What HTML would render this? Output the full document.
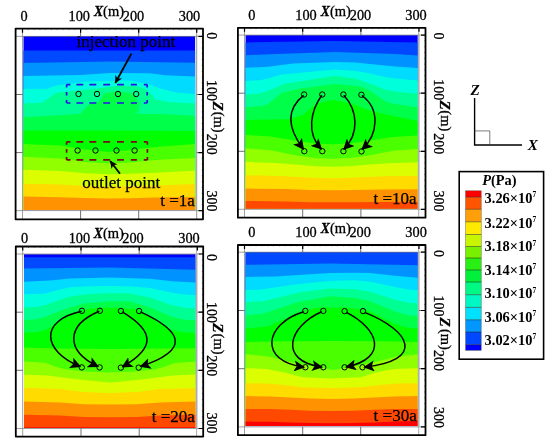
<!DOCTYPE html>
<html><head><meta charset="utf-8"><title>Pressure distribution</title>
<style>html,body{margin:0;padding:0;background:#fff}svg{display:block}text{font-family:"Liberation Serif",serif;fill:#000}.n{font-size:14.3px;stroke:#000;stroke-width:.3px}.t{font-size:17px;stroke:#000;stroke-width:.25px}.b{font-weight:bold}.bi{font-weight:bold;font-style:italic}.lg{font-size:14.4px;font-weight:bold}.xt{font-size:14.5px;stroke:#000;stroke-width:.3px}.zz{font-size:15.2px !important}.mm{font-size:14.5px !important}.r{font-size:14px;stroke:#000;stroke-width:.3px}</style></head><body>
<svg width="550" height="447" viewBox="0 0 550 447">
<rect width="550" height="447" fill="#fff"/>
<defs><marker id="ah" viewBox="0 0 10 10" refX="8.7" refY="5" markerWidth="11" markerHeight="11" markerUnits="userSpaceOnUse" orient="auto"><path d="M0,0 L10,5 L0,10 L2.3,5 Z" fill="#000"/></marker><marker id="as" viewBox="0 0 10 10" refX="9.5" refY="5" markerWidth="9.5" markerHeight="7.5" markerUnits="userSpaceOnUse" orient="auto"><path d="M0,0 L10,5 L0,10 L2.8,5 Z" fill="#000"/></marker></defs>
<g id="p1">
<rect x="23.5" y="36.1" width="171.6" height="174" fill="#0000ff"/>
<polygon points="23.5,50.4 195.1,50.4 195.1,210.1 23.5,210.1" fill="#0049ff"/>
<polygon points="23.5,62.9 110,61.5 195.1,62.7 195.1,210.1 23.5,210.1" fill="#0092ff"/>
<polygon points="23.5,76 80,75 110,73 150,73.2 165,75.3 195.1,76.5 195.1,210.1 23.5,210.1" fill="#00dbff"/>
<polygon points="23.5,89.1 47,88.7 56,85.5 85,81.7 128,80.6 147,83.7 161.4,88.8 176,92.5 195.1,93.9 195.1,210.1 23.5,210.1" fill="#00ffdb"/>
<polygon points="23.5,103.6 42,102.7 56.5,92.7 93,89 121,85.4 139,86.5 148.3,91 155.5,99.7 168.6,102 195.1,103.4 195.1,210.1 23.5,210.1" fill="#00ff92"/>
<polygon points="23.5,117.3 80,114 89,104.5 100,101 104,93.4 118,91.2 133,93.4 139.5,102.6 139,110 136,113.7 165,114.3 195.1,115.7 195.1,210.1 23.5,210.1" fill="#00ff49"/>
<polygon points="23.5,130.6 110,130.5 195.1,131 195.1,210.1 23.5,210.1" fill="#00ff00"/>
<polygon points="23.5,144 60,145.5 85,149.5 108,152 130,150 155,147 195.1,144 195.1,210.1 23.5,210.1" fill="#49ff00"/>
<polygon points="23.5,156.7 60,158.5 85,162 108,163.5 130,162.5 155,160 195.1,158 195.1,210.1 23.5,210.1" fill="#92ff00"/>
<polygon points="23.5,169.7 60,171 85,173.3 108,174.2 130,173.8 155,172.8 195.1,170.8 195.1,210.1 23.5,210.1" fill="#dbff00"/>
<polygon points="23.5,183.8 60,184.6 85,186 108,186.5 130,186.2 155,185.6 195.1,184 195.1,210.1 23.5,210.1" fill="#ffdb00"/>
<polygon points="23.5,196.6 60,197.2 85,198.1 108,198.4 130,198.2 155,197.6 195.1,197 195.1,210.1 23.5,210.1" fill="#ff9200"/>
<path d="M22.5,28.7V219.3M15.6,36.4H203M15.6,210.6H203" stroke="#77777a" stroke-width="0.7" fill="none"/>
<path d="M196.7,28.7V219.3" stroke="#8c8c84" stroke-width="0.9" fill="none"/>
<path d="M80.6,28.7V36.4M80.6,210.6V219.3M138.7,28.7V36.4M138.7,210.6V219.3M15.6,94.5H22.5M196.7,94.5H203M15.6,152.6H22.5M196.7,152.6H203" stroke="#333" stroke-width="0.7" fill="none"/>
<path d="M22.5,28.7v4M80.6,28.7v4M138.7,28.7v4M196.7,28.7v4M203,36.4h-4.5M203,94.5h-4.5M203,152.6h-4.5M203,210.6h-4.5" stroke="#000" stroke-width="1.2" fill="none"/>
<path d="M28.3,28.7v1.4M203,42.2h-1.4M34.1,28.7v1.4M203,48h-1.4M39.9,28.7v1.4M203,53.8h-1.4M45.7,28.7v1.4M203,59.6h-1.4M51.5,28.7v1.4M203,65.4h-1.4M57.3,28.7v1.4M203,71.2h-1.4M63.1,28.7v1.4M203,77h-1.4M69,28.7v1.4M203,82.9h-1.4M74.8,28.7v1.4M203,88.7h-1.4M86.4,28.7v1.4M203,100.3h-1.4M92.2,28.7v1.4M203,106.1h-1.4M98,28.7v1.4M203,111.9h-1.4M103.8,28.7v1.4M203,117.7h-1.4M109.6,28.7v1.4M203,123.5h-1.4M115.4,28.7v1.4M203,129.3h-1.4M121.2,28.7v1.4M203,135.1h-1.4M127,28.7v1.4M203,140.9h-1.4M132.8,28.7v1.4M203,146.7h-1.4M144.4,28.7v1.4M203,158.3h-1.4M150.2,28.7v1.4M203,164.1h-1.4M156.1,28.7v1.4M203,170h-1.4M161.9,28.7v1.4M203,175.8h-1.4M167.7,28.7v1.4M203,181.6h-1.4M173.5,28.7v1.4M203,187.4h-1.4M179.3,28.7v1.4M203,193.2h-1.4M185.1,28.7v1.4M203,199h-1.4M190.9,28.7v1.4M203,204.8h-1.4" stroke="#444" stroke-width="0.5" fill="none"/>
<rect x="15.6" y="28.7" width="187.4" height="190.6" fill="none" stroke="#000" stroke-width="1.8" stroke-linejoin="round"/>
<g fill="none" stroke="#000" stroke-width="1.0">
<circle cx="78.5" cy="94" r="2.7"/>
<circle cx="97" cy="94" r="2.7"/>
<circle cx="118" cy="94" r="2.7"/>
<circle cx="136.2" cy="94" r="2.7"/>
<circle cx="77.6" cy="150.5" r="2.7"/>
<circle cx="95.5" cy="150.5" r="2.7"/>
<circle cx="116.5" cy="150.5" r="2.7"/>
<circle cx="134.6" cy="150.5" r="2.7"/>
</g>
<text class="n" x="24.2" y="20.9" text-anchor="middle">0</text>
<text class="n" x="79.3" y="20.9" text-anchor="middle">100</text>
<text class="n" x="133.5" y="20.9" text-anchor="middle">200</text>
<text class="n" x="189.5" y="20.9" text-anchor="middle">300</text>
<text class="xt" x="94" y="16.2"><tspan class="bi" font-size="13.6">X</tspan>(m)</text>
<text class="r" transform="translate(206.9,35.8) rotate(90)" text-anchor="middle">0</text>
<text class="r" transform="translate(206.9,80.1) rotate(90)" text-anchor="start">100</text>
<text class="r" transform="translate(206.9,133.8) rotate(90)" text-anchor="start">200</text>
<text class="r" transform="translate(206.9,190.6) rotate(90)" text-anchor="start">300</text>
<text class="r bi zz" transform="translate(213.3,101.5) rotate(90)" text-anchor="start">Z</text>
<text class="r mm" transform="translate(214.3,111.7) rotate(90)" text-anchor="start">(m)</text>
<text class="t" x="194.8" y="206.1" text-anchor="end">t =1a</text>
</g>
<g id="p2">
<rect x="245.6" y="35.1" width="172.2" height="173.7" fill="#0000ff"/>
<polygon points="245.6,42.4 335,41.1 417.8,42.4 417.8,208.8 245.6,208.8" fill="#0049ff"/>
<polygon points="245.6,55.3 270,54.2 335,52 395,54 417.8,55.5 417.8,208.8 245.6,208.8" fill="#0092ff"/>
<polygon points="245.6,67.8 268,66.8 293,63.4 335,62 355,62.5 370,64.1 395,66.6 417.8,68 417.8,208.8 245.6,208.8" fill="#00dbff"/>
<polygon points="245.6,81 260,80.2 268,78.4 281.8,74.6 335,69.6 355,71 370,73.5 385,77 395,78.5 417.8,80.5 417.8,208.8 245.6,208.8" fill="#00ffdb"/>
<polygon points="245.6,94.4 260,93.5 268,90.8 285.5,83.6 335,76 355,78.5 370,83.7 385,89.5 395,91.5 417.8,93.8 417.8,208.8 245.6,208.8" fill="#00ff92"/>
<polygon points="245.6,107.2 262,106 268,104 281.8,92.8 300,88.6 335,84 359,86 370,90.7 380,98 388,102.5 395,104 417.8,107.2 417.8,208.8 245.6,208.8" fill="#00ff49"/>
<polygon points="245.6,120 287,119.3 303,115 316,104 332,100 350,103 368,110 386,114.5 417.8,121 417.8,208.8 245.6,208.8" fill="#00ff00"/>
<polygon points="245.6,135 270.5,136.4 295,140.5 315,143.5 332,144.3 350,143.5 370,140.5 393,136.9 417.8,135.6 417.8,208.8 245.6,208.8" fill="#49ff00"/>
<polygon points="245.6,148.3 270.5,150.3 295,155.2 315,158 332,158.8 350,158 370,155.2 393,150.8 417.8,149 417.8,208.8 245.6,208.8" fill="#92ff00"/>
<polygon points="245.6,161.8 275,163 295,164.6 315,166.3 332,166.8 350,166.3 370,164.6 390,163.3 417.8,162.2 417.8,208.8 245.6,208.8" fill="#dbff00"/>
<polygon points="245.6,175.2 280,175.9 300,177 320,178 332,178.2 345,178 365,177 385,176.3 417.8,175.8 417.8,208.8 245.6,208.8" fill="#ffdb00"/>
<polygon points="245.6,188.5 285,189.1 310,190 332,190.2 355,190 380,189.6 417.8,189.3 417.8,208.8 245.6,208.8" fill="#ff9200"/>
<polygon points="245.6,200.9 285,201.4 310,202.2 332,202.3 355,202.2 380,201.9 417.8,201.8 417.8,208.8 245.6,208.8" fill="#ff4900"/>
<path d="M244.5,27.8V217.7M237.9,35.1H425.5M237.9,209.3H425.5" stroke="#77777a" stroke-width="0.7" fill="none"/>
<rect x="417.8" y="35.1" width="1.8" height="173.7" fill="#bcbcc2"/>
<path d="M418.7,27.8V217.7" stroke="#aaaaae" stroke-width="1" fill="none"/>
<path d="M302.7,27.8V35.1M302.7,209.3V217.7M360.9,27.8V35.1M360.9,209.3V217.7M237.9,93.2H244.5M419,93.2H425.5M237.9,151.3H244.5M419,151.3H425.5" stroke="#333" stroke-width="0.7" fill="none"/>
<path d="M244.5,27.8v4M302.7,27.8v4M360.9,27.8v4M419,27.8v4M425.5,35.1h-4.5M425.5,93.2h-4.5M425.5,151.3h-4.5M425.5,209.3h-4.5" stroke="#000" stroke-width="1.2" fill="none"/>
<path d="M250.3,27.8v1.4M425.5,40.9h-1.4M256.1,27.8v1.4M425.5,46.7h-1.4M261.9,27.8v1.4M425.5,52.5h-1.4M267.8,27.8v1.4M425.5,58.3h-1.4M273.6,27.8v1.4M425.5,64.1h-1.4M279.4,27.8v1.4M425.5,69.9h-1.4M285.2,27.8v1.4M425.5,75.7h-1.4M291,27.8v1.4M425.5,81.6h-1.4M296.9,27.8v1.4M425.5,87.4h-1.4M308.5,27.8v1.4M425.5,99h-1.4M314.3,27.8v1.4M425.5,104.8h-1.4M320.1,27.8v1.4M425.5,110.6h-1.4M325.9,27.8v1.4M425.5,116.4h-1.4M331.8,27.8v1.4M425.5,122.2h-1.4M337.6,27.8v1.4M425.5,128h-1.4M343.4,27.8v1.4M425.5,133.8h-1.4M349.2,27.8v1.4M425.5,139.6h-1.4M355,27.8v1.4M425.5,145.4h-1.4M366.6,27.8v1.4M425.5,157h-1.4M372.5,27.8v1.4M425.5,162.8h-1.4M378.3,27.8v1.4M425.5,168.7h-1.4M384.1,27.8v1.4M425.5,174.5h-1.4M389.9,27.8v1.4M425.5,180.3h-1.4M395.7,27.8v1.4M425.5,186.1h-1.4M401.6,27.8v1.4M425.5,191.9h-1.4M407.4,27.8v1.4M425.5,197.7h-1.4M413.2,27.8v1.4M425.5,203.5h-1.4" stroke="#444" stroke-width="0.5" fill="none"/>
<rect x="237.9" y="27.8" width="187.6" height="189.9" fill="none" stroke="#000" stroke-width="1.8" stroke-linejoin="round"/>
<g fill="none" stroke="#000" stroke-width="1.0">
<circle cx="304.1" cy="94.5" r="2.7"/>
<circle cx="322.3" cy="94.5" r="2.7"/>
<circle cx="343.4" cy="94.5" r="2.7"/>
<circle cx="361.4" cy="94.8" r="2.7"/>
<circle cx="304.3" cy="151.2" r="2.7"/>
<circle cx="322.3" cy="151.2" r="2.7"/>
<circle cx="343.4" cy="151.2" r="2.7"/>
<circle cx="361.5" cy="151.4" r="2.7"/>
</g>
<g fill="none" stroke="#000" stroke-width="1.5" marker-end="url(#ah)">
<path d="M303.6,95.3C283.9,111 290.1,131.3 303.2,148.8"/>
<path d="M321.8,95.3C310.6,110.9 306.2,133.8 321.2,148.8"/>
<path d="M343.8,95.3C357.8,110.5 359.4,133.5 344.1,149.1"/>
<path d="M361.8,95.5C380.4,108.7 378.2,134.7 362.3,149.1"/>
</g>
<text class="n" x="251.9" y="20.3" text-anchor="middle">0</text>
<text class="n" x="306" y="20.3" text-anchor="middle">100</text>
<text class="n" x="360.5" y="20.3" text-anchor="middle">200</text>
<text class="n" x="416" y="20.3" text-anchor="middle">300</text>
<text class="xt" x="320.8" y="15.7"><tspan class="bi" font-size="13.6">X</tspan>(m)</text>
<text class="r" transform="translate(434.2,36.1) rotate(90)" text-anchor="middle">0</text>
<text class="r" transform="translate(434.2,79.3) rotate(90)" text-anchor="start">100</text>
<text class="r" transform="translate(434.2,133.3) rotate(90)" text-anchor="start">200</text>
<text class="r" transform="translate(434.2,190.4) rotate(90)" text-anchor="start">300</text>
<text class="r bi zz" transform="translate(439.8,100.5) rotate(90)" text-anchor="start">Z</text>
<text class="r mm" transform="translate(440.8,110.3) rotate(90)" text-anchor="start">(m)</text>
<text class="t" x="416.6" y="204" text-anchor="end">t =10a</text>
</g>
<g id="p3">
<rect x="24" y="254.2" width="171.6" height="173.6" fill="#0000ff"/>
<polygon points="24,257.2 195.6,257.2 195.6,427.8 24,427.8" fill="#0049ff"/>
<polygon points="24,268.6 110,267.5 195.6,269.7 195.6,427.8 24,427.8" fill="#0092ff"/>
<polygon points="24,281.7 50,280.5 70,278.6 110,277.6 140,278.5 150,278.8 172,281.3 195.6,282.5 195.6,427.8 24,427.8" fill="#00dbff"/>
<polygon points="24,294.3 37,294 45,293.5 58,290 70,287.2 90,286.3 110,286 132,286.5 150,288 172,292.7 185,294.6 195.6,295 195.6,427.8 24,427.8" fill="#00ffdb"/>
<polygon points="24,307.6 36,307 45,305.2 58,300.5 70,296.6 90,294 110,293.2 128,293.3 150,297.4 172,305.2 185,307.8 195.6,308.4 195.6,427.8 24,427.8" fill="#00ff92"/>
<polygon points="24,320.1 36,319.3 45,317 58,311.8 70,307.6 84,303.5 110,301.2 130,301.5 150,307.6 172,317 185,319.8 195.6,320.1 195.6,427.8 24,427.8" fill="#00ff49"/>
<polygon points="24,332.8 37,332 45,330.3 57,323 70,314.8 84,309.8 100,307.8 120,307.8 139,309.8 150,317 162,324.5 172,330.3 185,332.5 195.6,332.8 195.6,427.8 24,427.8" fill="#00ff00"/>
<polygon points="24,347.4 60,348.6 110,348.9 160,348.6 195.6,348.2 195.6,427.8 24,427.8" fill="#49ff00"/>
<polygon points="24,361.5 45,362.8 57,367.3 66,369.5 84,371.5 110,372.5 136,371.5 154,369.5 163,367.3 175,363 195.6,361.8 195.6,427.8 24,427.8" fill="#92ff00"/>
<polygon points="24,374.7 47,375.5 74.5,379 101,381.8 110,382.5 120,381.8 146,379 173,375.5 195.6,374.5 195.6,427.8 24,427.8" fill="#dbff00"/>
<polygon points="24,387.8 60,389 84,392 110,393 137,392 160,389 195.6,388.2 195.6,427.8 24,427.8" fill="#ffdb00"/>
<polygon points="24,401.6 60,402.5 84,404.2 110,404.6 137,404.2 160,402.5 195.6,401.6 195.6,427.8 24,427.8" fill="#ff9200"/>
<polygon points="24,414.7 60,415.5 84,417 110,417.3 137,417 160,415.5 195.6,414.7 195.6,427.8 24,427.8" fill="#ff4900"/>
<polygon points="24,427 195.6,427 195.6,427.8 24,427.8" fill="#ff0000"/>
<path d="M22.7,246.5V436.6M15.8,254H203.2M15.8,428.5H203.2" stroke="#77777a" stroke-width="0.7" fill="none"/>
<rect x="195.6" y="254.2" width="1.9" height="173.6" fill="#bcbcc2"/>
<path d="M196.6,246.5V436.6" stroke="#aaaaae" stroke-width="1" fill="none"/>
<path d="M81,246.5V254M81,428.5V436.6M139.2,246.5V254M139.2,428.5V436.6M15.8,312.2H22.7M197.4,312.2H203.2M15.8,370.3H22.7M197.4,370.3H203.2" stroke="#333" stroke-width="0.7" fill="none"/>
<path d="M22.7,246.5v4M81,246.5v4M139.2,246.5v4M197.4,246.5v4M203.2,254h-4.5M203.2,312.2h-4.5M203.2,370.3h-4.5M203.2,428.5h-4.5" stroke="#000" stroke-width="1.2" fill="none"/>
<path d="M28.5,246.5v1.4M203.2,259.8h-1.4M34.3,246.5v1.4M203.2,265.6h-1.4M40.2,246.5v1.4M203.2,271.4h-1.4M46,246.5v1.4M203.2,277.3h-1.4M51.8,246.5v1.4M203.2,283.1h-1.4M57.6,246.5v1.4M203.2,288.9h-1.4M63.5,246.5v1.4M203.2,294.7h-1.4M69.3,246.5v1.4M203.2,300.5h-1.4M75.1,246.5v1.4M203.2,306.4h-1.4M86.8,246.5v1.4M203.2,318h-1.4M92.6,246.5v1.4M203.2,323.8h-1.4M98.4,246.5v1.4M203.2,329.6h-1.4M104.2,246.5v1.4M203.2,335.4h-1.4M110.1,246.5v1.4M203.2,341.2h-1.4M115.9,246.5v1.4M203.2,347.1h-1.4M121.7,246.5v1.4M203.2,352.9h-1.4M127.5,246.5v1.4M203.2,358.7h-1.4M133.3,246.5v1.4M203.2,364.5h-1.4M145,246.5v1.4M203.2,376.1h-1.4M150.8,246.5v1.4M203.2,382h-1.4M156.6,246.5v1.4M203.2,387.8h-1.4M162.5,246.5v1.4M203.2,393.6h-1.4M168.3,246.5v1.4M203.2,399.4h-1.4M174.1,246.5v1.4M203.2,405.2h-1.4M179.9,246.5v1.4M203.2,411.1h-1.4M185.8,246.5v1.4M203.2,416.9h-1.4M191.6,246.5v1.4M203.2,422.7h-1.4" stroke="#444" stroke-width="0.5" fill="none"/>
<rect x="15.8" y="246.5" width="187.4" height="190.1" fill="none" stroke="#000" stroke-width="1.8" stroke-linejoin="round"/>
<g fill="none" stroke="#000" stroke-width="1.0">
<circle cx="81.9" cy="310.8" r="2.7"/>
<circle cx="99.9" cy="310.8" r="2.7"/>
<circle cx="120.9" cy="311" r="2.7"/>
<circle cx="139.1" cy="311" r="2.7"/>
<circle cx="81.8" cy="367.4" r="2.7"/>
<circle cx="99.6" cy="367.4" r="2.7"/>
<circle cx="120.9" cy="367.6" r="2.7"/>
<circle cx="138.7" cy="367.6" r="2.7"/>
</g>
<g fill="none" stroke="#000" stroke-width="1.5" marker-end="url(#ah)">
<path d="M81.5,311.3C38.8,320.6 42.5,351.2 80,366.4"/>
<path d="M99.3,311.3C66.3,325.1 64.8,350.4 97.8,366.4"/>
<path d="M122.2,311.9C154.9,331.4 155.5,347.9 122.7,366.7"/>
<path d="M140.4,311.9C182.7,331.1 190.7,350 140.9,366.4"/>
</g>
<text class="n" x="24.5" y="242.5" text-anchor="middle">0</text>
<text class="n" x="79.4" y="242.5" text-anchor="middle">100</text>
<text class="n" x="133" y="242.5" text-anchor="middle">200</text>
<text class="n" x="189" y="242.5" text-anchor="middle">300</text>
<text class="xt" x="93.8" y="237.5"><tspan class="bi" font-size="13.6">X</tspan>(m)</text>
<text class="r" transform="translate(206.9,257.4) rotate(90)" text-anchor="middle">0</text>
<text class="r" transform="translate(206.9,302) rotate(90)" text-anchor="start">100</text>
<text class="r" transform="translate(206.9,355.3) rotate(90)" text-anchor="start">200</text>
<text class="r" transform="translate(206.9,412.6) rotate(90)" text-anchor="start">300</text>
<text class="r bi zz" transform="translate(213.3,323.3) rotate(90)" text-anchor="start">Z</text>
<text class="r mm" transform="translate(214.3,333.6) rotate(90)" text-anchor="start">(m)</text>
<text class="t" x="194.8" y="422.3" text-anchor="end">t =20a</text>
</g>
<g id="p4">
<rect x="245.6" y="252.3" width="172.2" height="173.8" fill="#0000ff"/>
<polygon points="245.6,252 417.8,252 417.8,426.1 245.6,426.1" fill="#0049ff"/>
<polygon points="245.6,264.8 330,263.5 417.8,265.3 417.8,426.1 245.6,426.1" fill="#0092ff"/>
<polygon points="245.6,276.9 275,276.5 330,273.1 355,272.8 370,273 395,275.7 417.8,277.7 417.8,426.1 245.6,426.1" fill="#00dbff"/>
<polygon points="245.6,289.9 259,289.7 297,284.3 330,281 355,280.3 370,281.7 395,287.1 408,289.6 417.8,290.3 417.8,426.1 245.6,426.1" fill="#00ffdb"/>
<polygon points="245.6,302.2 263.6,301 301.6,292 330,288.4 355,289.3 370,291.8 395,299.7 408,302.8 417.8,303.6 417.8,426.1 245.6,426.1" fill="#00ff92"/>
<polygon points="245.6,315.6 263.6,313.4 297,302.2 330,296.3 355,298 370,301.2 395,311.4 408,315.2 417.8,316.1 417.8,426.1 245.6,426.1" fill="#00ff49"/>
<polygon points="245.6,328.6 268.4,326.3 290.7,316 304,310 320,307.5 345,307.5 363,309.5 370,311.4 383,318 395,324 407,327.8 417.8,328.6 417.8,426.1 245.6,426.1" fill="#00ff00"/>
<polygon points="245.6,342 290,341.3 333,341 380,341.3 417.8,342 417.8,426.1 245.6,426.1" fill="#49ff00"/>
<polygon points="245.6,354.3 268.4,356.5 290.7,362 313,366.6 333,370 353,366.6 375,362 397,356.5 417.8,354.3 417.8,426.1 245.6,426.1" fill="#92ff00"/>
<polygon points="245.6,368.2 266.4,368.9 284.5,372.5 302.7,377.3 331.8,378.5 360.9,377.3 375.5,372.5 393.6,368.9 417.8,368.2 417.8,426.1 245.6,426.1" fill="#dbff00"/>
<polygon points="245.6,383.2 266.4,383.4 284.5,385 302.7,387.2 331.8,387.9 360.9,387.2 379,385 397,383.4 417.8,383.2 417.8,426.1 245.6,426.1" fill="#ffdb00"/>
<polygon points="245.6,396.1 270,396.4 290,397.4 310,398.6 331.8,398.9 354,398.6 374,397.4 394,396.4 417.8,396.1 417.8,426.1 245.6,426.1" fill="#ff9200"/>
<polygon points="245.6,408.9 270,409.1 290,409.8 310,410.7 331.8,410.9 354,410.7 374,409.8 394,409.1 417.8,408.9 417.8,426.1 245.6,426.1" fill="#ff4900"/>
<polygon points="245.6,421.6 270,421.8 290,422.4 310,423 331.8,423.2 354,423 374,422.4 394,421.6 417.8,421 417.8,426.1 245.6,426.1" fill="#ff0000"/>
<path d="M244.5,245V435.2M237.9,252.2H425.5M237.9,426.9H425.5" stroke="#77777a" stroke-width="0.7" fill="none"/>
<rect x="417.8" y="252.3" width="1.8" height="173.8" fill="#bcbcc2"/>
<path d="M418.7,245V435.2" stroke="#aaaaae" stroke-width="1" fill="none"/>
<path d="M302.7,245V252.2M302.7,426.9V435.2M360.7,245V252.2M360.7,426.9V435.2M237.9,310.5H244.5M419,310.5H425.5M237.9,368.7H244.5M419,368.7H425.5" stroke="#333" stroke-width="0.7" fill="none"/>
<path d="M244.5,245v4M302.7,245v4M360.7,245v4M419,245v4M425.5,252.2h-4.5M425.5,310.5h-4.5M425.5,368.7h-4.5M425.5,426.9h-4.5" stroke="#000" stroke-width="1.2" fill="none"/>
<path d="M250.3,245v1.4M425.5,258h-1.4M256.1,245v1.4M425.5,263.8h-1.4M261.9,245v1.4M425.5,269.7h-1.4M267.8,245v1.4M425.5,275.5h-1.4M273.6,245v1.4M425.5,281.3h-1.4M279.4,245v1.4M425.5,287.1h-1.4M285.2,245v1.4M425.5,293h-1.4M291,245v1.4M425.5,298.8h-1.4M296.9,245v1.4M425.5,304.6h-1.4M308.5,245v1.4M425.5,316.3h-1.4M314.3,245v1.4M425.5,322.1h-1.4M320.1,245v1.4M425.5,327.9h-1.4M325.9,245v1.4M425.5,333.7h-1.4M331.8,245v1.4M425.5,339.5h-1.4M337.6,245v1.4M425.5,345.4h-1.4M343.4,245v1.4M425.5,351.2h-1.4M349.2,245v1.4M425.5,357h-1.4M355,245v1.4M425.5,362.8h-1.4M366.6,245v1.4M425.5,374.5h-1.4M372.5,245v1.4M425.5,380.3h-1.4M378.3,245v1.4M425.5,386.1h-1.4M384.1,245v1.4M425.5,392h-1.4M389.9,245v1.4M425.5,397.8h-1.4M395.7,245v1.4M425.5,403.6h-1.4M401.6,245v1.4M425.5,409.4h-1.4M407.4,245v1.4M425.5,415.3h-1.4M413.2,245v1.4M425.5,421.1h-1.4" stroke="#444" stroke-width="0.5" fill="none"/>
<rect x="237.9" y="245" width="187.6" height="190.2" fill="none" stroke="#000" stroke-width="1.8" stroke-linejoin="round"/>
<g fill="none" stroke="#000" stroke-width="1.0">
<circle cx="305.3" cy="310.9" r="2.7"/>
<circle cx="323.3" cy="310.9" r="2.7"/>
<circle cx="344.6" cy="311.1" r="2.7"/>
<circle cx="363" cy="311.1" r="2.7"/>
<circle cx="305.3" cy="367.3" r="2.7"/>
<circle cx="323.3" cy="367.3" r="2.7"/>
<circle cx="344.6" cy="367.3" r="2.7"/>
<circle cx="362.5" cy="367.3" r="2.7"/>
</g>
<g fill="none" stroke="#000" stroke-width="1.5" marker-end="url(#ah)">
<path d="M303.7,311.8C263.9,324 258.6,361.5 303.7,367"/>
<path d="M321.6,311.8C288.3,326.5 278,360.8 321.6,367"/>
<path d="M346.4,312.4C378.5,328.8 389.1,357.8 346.4,367"/>
<path d="M364.7,312.4C411.8,331.4 424.8,360.2 364.7,367"/>
</g>
<text class="n" x="251.9" y="237.3" text-anchor="middle">0</text>
<text class="n" x="306" y="237.3" text-anchor="middle">100</text>
<text class="n" x="360.2" y="237.3" text-anchor="middle">200</text>
<text class="n" x="416.1" y="237.3" text-anchor="middle">300</text>
<text class="xt" x="320.8" y="232.6"><tspan class="bi" font-size="13.6">X</tspan>(m)</text>
<text class="r" transform="translate(434.2,253.4) rotate(90)" text-anchor="middle">0</text>
<text class="r" transform="translate(434.2,295.6) rotate(90)" text-anchor="start">100</text>
<text class="r" transform="translate(434.2,349.9) rotate(90)" text-anchor="start">200</text>
<text class="r" transform="translate(434.2,407) rotate(90)" text-anchor="start">300</text>
<text class="r bi zz" transform="translate(439.8,317.5) rotate(90)" text-anchor="start">Z</text>
<text class="r mm" transform="translate(440.8,328.9) rotate(90)" text-anchor="start">(m)</text>
<text class="t" x="416.7" y="421" text-anchor="end">t =30a</text>
</g>
<path d="M66.6,84.6H70.4M66.6,103H70.4M76.4,84.6H83.3M76.4,103H83.3M89.4,84.6H96.3M89.4,103H96.3M103.2,84.6H110.1M103.2,103H110.1M117,84.6H123.9M117,103H123.9M130.8,84.6H136.9M130.8,103H136.9M143.8,84.6H147.2M143.8,103H147.2M66.6,84.6V87.5M147.2,84.6V87.5M66.6,92V95.6M147.2,92V95.6M66.6,100.1V103M147.2,100.1V103" stroke="#2a10e6" stroke-width="1.7" fill="none" />
<path d="M66.6,141.8H70.4M66.6,159.9H70.4M76.4,141.8H83.3M76.4,159.9H83.3M89.4,141.8H96.3M89.4,159.9H96.3M103.2,141.8H110.1M103.2,159.9H110.1M117,141.8H123.9M117,159.9H123.9M130.8,141.8H136.9M130.8,159.9H136.9M143.8,141.8H147.4M143.8,159.9H147.4M66.6,141.8V144.7M147.4,141.8V144.7M66.6,149.1V152.7M147.4,149.1V152.7M66.6,157V159.9M147.4,157V159.9" stroke="#7a0a10" stroke-width="1.7" fill="none" />
<text class="t" x="76.5" y="47.2">injection point</text>
<text class="t" x="82.2" y="187.8">outlet point</text>
<path d="M131.4,53.6L115.3,83" stroke="#000" stroke-width="1.8" fill="none" marker-end="url(#as)"/>
<path d="M120,173.8L110.2,161" stroke="#000" stroke-width="1.8" fill="none" marker-end="url(#as)"/>
<path d="M474.6,98V145H522" stroke="#000" stroke-width="1.4" fill="none"/>
<path d="M474.6,130.9H489.8V145" stroke="#444" stroke-width="0.7" fill="none"/>
<text class="bi" font-size="15.2" x="470.6" y="94.8">Z</text>
<text class="bi" font-size="15.2" x="527.8" y="149.6">X</text>
<rect x="459.2" y="171.6" width="84.4" height="187.6" fill="#fff" stroke="#000" stroke-width="1.6"/>
<text class="lg" x="482.2" y="185.2"><tspan class="bi">P</tspan>(Pa)</text>
<rect x="465.6" y="190.8" width="15.6" height="6.4" fill="#ff0000"/>
<rect x="465.6" y="197.2" width="15.6" height="12.1" fill="#ff5500"/>
<rect x="465.6" y="209.3" width="15.6" height="12.5" fill="#ffa00a"/>
<rect x="465.6" y="221.8" width="15.6" height="12.7" fill="#ffea00"/>
<rect x="465.6" y="234.5" width="15.6" height="12" fill="#c8f500"/>
<rect x="465.6" y="246.5" width="15.6" height="11.5" fill="#78f000"/>
<rect x="465.6" y="258" width="15.6" height="12" fill="#28f014"/>
<rect x="465.6" y="270" width="15.6" height="12" fill="#00f03c"/>
<rect x="465.6" y="282" width="15.6" height="12.7" fill="#00f884"/>
<rect x="465.6" y="294.7" width="15.6" height="12.7" fill="#00f8c4"/>
<rect x="465.6" y="307.4" width="15.6" height="12.4" fill="#00e0ff"/>
<rect x="465.6" y="319.8" width="15.6" height="12.2" fill="#0098ff"/>
<rect x="465.6" y="332" width="15.6" height="12.7" fill="#0048ff"/>
<rect x="465.6" y="344.7" width="15.6" height="5.6" fill="#0000ff"/>
<path d="M465.6,197.2H481.2M465.6,209.3H481.2M465.6,221.8H481.2M465.6,234.5H481.2M465.6,246.5H481.2M465.6,258H481.2M465.6,270H481.2M465.6,282H481.2M465.6,294.7H481.2M465.6,307.4H481.2M465.6,319.8H481.2M465.6,332H481.2M465.6,344.7H481.2" stroke="#202010" stroke-width="0.6" opacity="0.85" fill="none"/>
<rect x="465.6" y="190.8" width="15.6" height="159.5" fill="none" stroke="#303020" stroke-width="0.5" opacity="0.7"/>
<text class="lg" x="484.6" y="203">3.26×10<tspan font-size="7.5" dy="-5.6">7</tspan></text>
<text class="lg" x="484.6" y="227.6">3.22×10<tspan font-size="7.5" dy="-5.6">7</tspan></text>
<text class="lg" x="484.6" y="251.3">3.18×10<tspan font-size="7.5" dy="-5.6">7</tspan></text>
<text class="lg" x="484.6" y="275">3.14×10<tspan font-size="7.5" dy="-5.6">7</tspan></text>
<text class="lg" x="484.6" y="298.1">3.10×10<tspan font-size="7.5" dy="-5.6">7</tspan></text>
<text class="lg" x="484.6" y="321.8">3.06×10<tspan font-size="7.5" dy="-5.6">7</tspan></text>
<text class="lg" x="484.6" y="344.5">3.02×10<tspan font-size="7.5" dy="-5.6">7</tspan></text>
</svg></body></html>
